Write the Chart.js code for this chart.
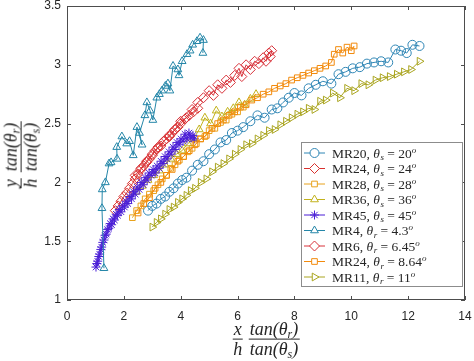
<!DOCTYPE html>
<html>
<head>
<meta charset="utf-8">
<script src="https://cdn.jsdelivr.net/npm/chart.js@4.4.1/dist/chart.umd.min.js"></script>
<style>
  html, body { margin: 0; padding: 0; background: #fff; }
  #wrap { position: relative; width: 474px; height: 361px; }
  canvas { position: absolute; left: 0; top: 0; }
  .ttl { position: absolute; font-family: "Liberation Serif", "DejaVu Serif", serif; font-style: italic; font-size: 18px; color: #262626; display: flex; align-items: center; white-space: nowrap; }
  .frac { display: inline-flex; flex-direction: column; align-items: center; margin: 0 3px; line-height: 1.05; }
  .frac .num { border-bottom: 1px solid #262626; padding: 0 1px; }
  .frac sub { font-size: 12px; vertical-align: -3px; line-height: 0; }
  #ytitle { left: 21px; top: 155px; transform: translate(-50%, -50%) rotate(-90deg); }
  #xtitle { left: 266px; top: 339px; transform: translate(-50%, -50%); }
</style>
</head>
<body>
<div id="wrap">
  <canvas id="chart" width="474" height="361"></canvas>
  <div class="ttl" id="ytitle">
    <span class="frac"><span class="num">y</span><span>h</span></span>
    <span class="frac"><span class="num">tan(θ<sub>r</sub>)</span><span>tan(θ<sub>s</sub>)</span></span>
  </div>
  <div class="ttl" id="xtitle">
    <span class="frac"><span class="num">x</span><span>h</span></span>
    <span class="frac"><span class="num">tan(θ<sub>r</sub>)</span><span>tan(θ<sub>s</sub>)</span></span>
  </div>
</div>
<script>
// legend text pieces
const seriesNames = ["MR20", "MR24", "MR28", "MR36", "MR45", "MR4", "MR6", "MR24", "MR11"];
const angleSub = ["s", "s", "s", "s", "s", "r", "r", "r", "r"];
const angleVal = ["20", "24", "28", "36", "45", "4.3", "6.45", "8.64", "11"];

// axis ticks
const xTicks = [0, 2, 4, 6, 8, 10, 12, 14];
const yTicks = [1, 1.5, 2, 2.5, 3, 3.5];

// MR20, theta_s = 20
const mr20X = [2.85,3.0,3.15,3.3,3.45,3.6,3.75,3.9,4.05,4.2,4.4,4.6,4.8,5.0,5.2,5.4,5.6,5.8,6.0,6.2,6.45,6.7,6.95,7.2,7.4,7.6,7.8,8.0,8.25,8.5,8.75,9.0,9.3,9.55,9.8,10.05,10.3,10.55,10.8,11.05,11.3,11.55,11.75,11.95,12.15,12.4];
const mr20Y = [1.76,1.80,1.82,1.86,1.88,1.92,1.95,1.99,2.02,2.04,2.10,2.15,2.18,2.24,2.28,2.34,2.36,2.42,2.44,2.47,2.52,2.57,2.55,2.62,2.63,2.68,2.72,2.76,2.74,2.80,2.83,2.86,2.84,2.92,2.94,2.97,2.98,3.01,3.02,3.03,3.02,3.13,3.12,3.10,3.17,3.16];

// MR24, theta_s = 24
const mr24sX = [1.70,1.80,1.90,2.00,2.10,2.20,2.30,2.40,2.50,2.60,2.70,2.80,2.90,3.00,3.10,3.20,3.30,3.40,3.50,3.60,3.70,3.80,3.90,4.00,4.15,4.30,4.45,4.60];
const mr24sY = [1.76,1.80,1.84,1.88,1.91,1.95,1.99,2.03,2.07,2.11,2.14,2.17,2.20,2.23,2.27,2.29,2.31,2.35,2.37,2.39,2.42,2.45,2.47,2.50,2.54,2.57,2.60,2.63];

// MR28, theta_s = 28
const mr28X = [2.30,2.45,2.60,2.75,2.90,3.05,3.20,3.35,3.50,3.65,3.80,3.95,4.10,4.25,4.40,4.55,4.70,4.85,5.00,5.20,5.40,5.60,5.80,6.00,6.20];
const mr28Y = [1.70,1.76,1.80,1.86,1.90,1.93,1.98,2.03,2.06,2.12,2.15,2.19,2.22,2.26,2.29,2.33,2.37,2.39,2.44,2.46,2.51,2.53,2.58,2.60,2.64];

// MR36, theta_s = 36
const mr36X = [2.45,2.65,2.85,3.05,3.25,3.45,3.65,3.85,4.05,4.25,4.45,4.65,4.85,5.05,5.25,5.45,5.65,5.85,6.05,6.25,6.45,6.65];
const mr36Y = [1.92,1.97,2.02,2.06,2.10,2.15,2.20,2.24,2.27,2.33,2.37,2.45,2.55,2.50,2.61,2.56,2.60,2.63,2.68,2.66,2.71,2.75];

// MR45, theta_s = 45
const mr45X = [1.02,1.05,1.08,1.12,1.15,1.19,1.22,1.26,1.30,1.34,1.38,1.43,1.47,1.52,1.57,1.62,1.67,1.73,1.78,1.84,1.90,1.96,2.02,2.08,2.14,2.21,2.27,2.34,2.40,2.47,2.54,2.61,2.68,2.75,2.82,2.89,2.96,3.03,3.10,3.17,3.24,3.31,3.38,3.45,3.52,3.59,3.66,3.73,3.80,3.87,3.94,4.01,4.08,4.15,4.22,4.29,4.36,4.43,4.48];
const mr45Y = [1.28,1.31,1.33,1.37,1.39,1.43,1.45,1.49,1.51,1.55,1.56,1.60,1.61,1.65,1.64,1.69,1.68,1.73,1.72,1.77,1.75,1.80,1.79,1.84,1.82,1.88,1.86,1.92,1.90,1.96,1.94,2.00,1.98,2.04,2.02,2.08,2.06,2.11,2.08,2.14,2.12,2.18,2.16,2.22,2.20,2.26,2.24,2.30,2.28,2.34,2.32,2.37,2.35,2.41,2.37,2.42,2.38,2.40,2.37];

// MR4, theta_r = 4.3
const mr4X = [1.30,1.23,1.24,1.35,1.48,1.55,1.76,1.75,1.93,2.10,2.20,2.33,2.46,2.64,2.55,2.74,2.81,2.92,3.02,3.16,3.25,3.34,3.46,3.55,3.62,3.73,3.90,3.94,4.05,4.22,4.33,4.42,4.57,4.68,4.80,4.78];
const mr4Y = [1.27,1.78,1.94,2.00,2.16,2.17,2.20,2.30,2.39,2.33,2.35,2.23,2.47,2.32,2.42,2.57,2.68,2.61,2.53,2.72,2.75,2.78,2.82,2.84,2.78,2.99,2.96,2.91,3.03,3.09,3.12,3.17,3.20,3.23,3.21,3.10];

// MR6, theta_r = 6.45
const mr6X = [2.40,2.60,2.80,3.00,3.20,3.40,3.60,3.80,4.00,4.20,4.40,4.60,4.80,5.00,5.15,5.30,5.45,5.60,5.75,5.90,6.05,6.15,6.30,6.45,6.60,6.75,6.90,7.00,7.10,7.20,7.15];
const mr6Y = [2.06,2.12,2.18,2.24,2.30,2.35,2.40,2.45,2.52,2.55,2.62,2.68,2.72,2.78,2.74,2.83,2.80,2.87,2.85,2.91,2.97,2.90,3.00,2.96,3.03,3.01,3.06,3.03,3.10,3.12,3.07];

// MR24, theta_r = 8.64
const mr24rX = [2.50,2.70,2.90,3.10,3.30,3.50,3.70,3.90,4.10,4.30,4.50,4.70,4.90,5.10,5.30,5.50,5.70,5.90,6.10,6.30,6.50,6.70,6.90,7.10,7.30,7.50,7.70,7.90,8.10,8.30,8.50,8.70,8.90,9.10,9.30,9.40,9.55,9.70,9.85,10.00,10.10];
const mr24rY = [1.74,1.82,1.87,1.95,2.00,2.06,2.11,2.18,2.22,2.27,2.32,2.37,2.40,2.46,2.50,2.53,2.57,2.60,2.64,2.66,2.70,2.72,2.75,2.77,2.80,2.82,2.84,2.87,2.89,2.91,2.93,2.95,2.97,2.99,3.02,3.09,3.13,3.10,3.15,3.12,3.16];

// MR11, theta_r = 11
const mr11X = [3.0,3.15,3.3,3.45,3.6,3.75,3.9,4.05,4.2,4.35,4.5,4.7,4.9,5.1,5.3,5.5,5.7,5.9,6.1,6.3,6.5,6.7,6.9,7.1,7.3,7.5,7.7,7.9,8.1,8.3,8.5,8.7,8.9,9.1,9.35,9.6,9.85,10.1,10.35,10.6,10.85,11.1,11.35,11.6,11.85,12.1,12.4];
const mr11Y = [1.62,1.66,1.69,1.73,1.77,1.79,1.83,1.86,1.89,1.93,1.95,2.00,2.03,2.09,2.13,2.16,2.20,2.24,2.28,2.32,2.33,2.37,2.40,2.44,2.45,2.49,2.52,2.55,2.58,2.60,2.63,2.62,2.69,2.70,2.76,2.72,2.80,2.78,2.84,2.83,2.87,2.89,2.90,2.92,2.94,2.96,3.03];

const allX = [mr20X, mr24sX, mr28X, mr36X, mr45X, mr4X, mr6X, mr24rX, mr11X];
const allY = [mr20Y, mr24sY, mr28Y, mr36Y, mr45Y, mr4Y, mr6Y, mr24rY, mr11Y];
const colors = ["#2f86b5", "#d9302e", "#e8a21c", "#c2b21c", "#4b1fd6", "#2486a8", "#d8323a", "#f28a0c", "#aaa520"];
const markers = ["circle", "rectRot", "rect", "triangle", "star", "triangle", "rectRot", "rect", "triangle"];
const rotations = [0, 0, 0, 0, 0, 0, 0, 0, 90];
const radii = [4.5, 5, 4, 4.5, 4.5, 4.5, 5, 4, 4.5];

function zip(xs, ys) {
  return xs.map((x, i) => ({ x: x, y: ys[i] }));
}

const datasets = seriesNames.map((name, i) => ({
  label: name + ", θ" + angleSub[i] + " = " + angleVal[i] + "°",
  data: zip(allX[i], allY[i]),
  showLine: true,
  borderColor: colors[i],
  borderWidth: 1,
  backgroundColor: "rgba(0,0,0,0)",
  pointStyle: markers[i],
  pointRotation: rotations[i],
  pointRadius: radii[i],
  pointBorderWidth: 1,
  pointBorderColor: colors[i],
  pointBackgroundColor: "rgba(0,0,0,0)",
  order: 20 - i
}));

// box around the axes and inward tick marks on all four sides
const axesBox = {
  id: "axesBox",
  afterDraw(chart) {
    const ctx = chart.ctx;
    const a = chart.chartArea;
    const xs = chart.scales.x, ys = chart.scales.y;
    ctx.save();
    ctx.strokeStyle = "#4d4d4d";
    ctx.lineWidth = 1;
    ctx.strokeRect(a.left + 0.5, a.top + 0.5, a.right - a.left - 1, a.bottom - a.top - 1);
    ctx.beginPath();
    xTicks.forEach(v => {
      const px = Math.round(xs.getPixelForValue(v)) + 0.5;
      ctx.moveTo(px, a.bottom); ctx.lineTo(px, a.bottom - 4);
      ctx.moveTo(px, a.top); ctx.lineTo(px, a.top + 4);
    });
    yTicks.forEach(v => {
      const py = Math.round(ys.getPixelForValue(v)) + 0.5;
      ctx.moveTo(a.left, py); ctx.lineTo(a.left + 4, py);
      ctx.moveTo(a.right, py); ctx.lineTo(a.right - 4, py);
    });
    ctx.stroke();
    ctx.restore();
  }
};

// legend box inside the axes, MATLAB style
const boxLegend = {
  id: "boxLegend",
  afterDraw(chart) {
    const ctx = chart.ctx;
    const left = 301, top = 142, w = 161, h = 144, rowH = 15.5;
    ctx.save();
    ctx.fillStyle = "#fff";
    ctx.fillRect(left, top, w, h);
    ctx.strokeStyle = "#8c8c8c";
    ctx.lineWidth = 1;
    ctx.strokeRect(left + 0.5, top + 0.5, w, h);
    seriesNames.forEach((name, i) => {
      const cy = top + 11 + i * rowH;
      ctx.strokeStyle = colors[i];
      ctx.lineWidth = 1;
      ctx.beginPath();
      ctx.moveTo(304, cy); ctx.lineTo(325, cy);
      ctx.stroke();
      ctx.fillStyle = "#fff";
      ctx.strokeStyle = colors[i];
      Chart.helpers.drawPoint(ctx, {
        pointStyle: markers[i], rotation: rotations[i], radius: radii[i],
        borderWidth: 1
      }, 314.5, cy);
      ctx.fillStyle = "#262626";
      let x = 332;
      const base = cy + 4.5;
      const parts = [
        { t: name + ", ", f: "13.5px" },
        { t: "θ", f: "italic 13.5px" },
        { t: angleSub[i], f: "italic 9px", dy: 2.5 },
        { t: " = " + angleVal[i], f: "13.5px" },
        { t: "o", f: "italic 9px", dy: -5 }
      ];
      parts.forEach(p => {
        ctx.font = p.f + ' "Liberation Serif", serif';
        ctx.fillText(p.t, x, base + (p.dy || 0));
        x += ctx.measureText(p.t).width + (p.t === "θ" ? 0.5 : 0);
      });
    });
    ctx.restore();
  }
};

new Chart(document.getElementById("chart"), {
  type: "scatter",
  data: { datasets: datasets },
  options: {
    responsive: false,
    animation: false,
    devicePixelRatio: 1,
    layout: { padding: { left: 0, right: 9, top: 5, bottom: 0 } },
    plugins: {
      legend: { display: false },
      tooltip: { enabled: false }
    },
    scales: {
      x: {
        type: "linear",
        min: 0, max: 14,
        afterBuildTicks: s => { s.ticks = xTicks.map(v => ({ value: v })); },
        afterFit: s => { s.height = 61; s.paddingLeft = 0; s.paddingRight = 0; },
        grid: { display: false, drawTicks: false },
        border: { display: false },
        ticks: { color: "#262626", padding: 9, font: { family: "Liberation Sans", size: 12 } }
      },
      y: {
        type: "linear",
        min: 1, max: 3.5,
        afterBuildTicks: s => { s.ticks = yTicks.map(v => ({ value: v })); },
        afterFit: s => { s.width = 67; s.paddingTop = 0; s.paddingBottom = 0; },
        grid: { display: false, drawTicks: false },
        border: { display: false },
        ticks: {
          color: "#262626", padding: 6, font: { family: "Liberation Sans", size: 12 },
          callback: v => String(v)
        }
      }
    }
  },
  plugins: [axesBox, boxLegend]
});
</script>
</body>
</html>
